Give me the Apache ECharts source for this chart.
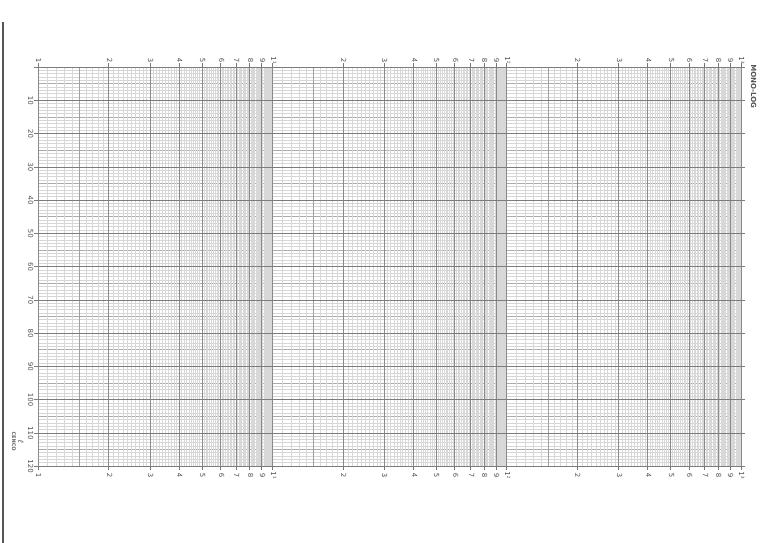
<!DOCTYPE html>
<html><head><meta charset="utf-8">
<script src="https://cdn.jsdelivr.net/npm/echarts@6/dist/echarts.min.js"></script>
<style>html,body{margin:0;padding:0;background:#fff}#c{width:768px;height:543px}</style>
</head><body><div id="c"></div>
<script>
// ---- paper data ----
const xMin = 1, xMax = 1000, yMin = 0, yMax = 120;
const decades = [1, 10, 100];
const decadeLabels = ['1\u00B9', '1\u00B2', '1\u00B3'];   // labels at 10, 100, 1000
const mantissaLabels = ['1', '2', '3', '4', '5', '6', '7', '8', '9'];
const majorMantissas = [1, 2, 3, 4, 5, 6, 7, 8, 9];
const mediumMantissas = [1.5];
const minorMantissas = [1.1, 1.2, 1.3, 1.4, 1.6, 1.7, 1.8, 1.9,
  2.1, 2.2, 2.3, 2.4, 2.5, 2.6, 2.7, 2.8, 2.9,
  3.1, 3.2, 3.3, 3.4, 3.5, 3.6, 3.7, 3.8, 3.9,
  4.1, 4.2, 4.3, 4.4, 4.5, 4.6, 4.7, 4.8, 4.9,
  5.1, 5.2, 5.3, 5.4, 5.5, 5.6, 5.7, 5.8, 5.9,
  6.1, 6.2, 6.3, 6.4, 6.5, 6.6, 6.7, 6.8, 6.9,
  7.1, 7.2, 7.3, 7.4, 7.5, 7.6, 7.7, 7.8, 7.9,
  8.1, 8.2, 8.3, 8.4, 8.5, 8.6, 8.7, 8.8, 8.9,
  9.1, 9.2, 9.3, 9.4, 9.5, 9.6, 9.7, 9.8, 9.9];
const yTickValues = [10, 20, 30, 40, 50, 60, 70, 80, 90, 100, 110, 120];
const yTickLabels = ['10', '20', '30', '40', '50', '60', '70', '80', '90', '100', '110', '120'];
const yMajorLines = [0, 10, 20, 30, 40, 50, 60, 70, 80, 90, 100, 110, 120];
const paperTitle = 'MONO-LOG';
const brandName = 'CENCO';

// ---- build line / label tables ----
const kindColors = ['#d8d8d8', '#a0a0a0', '#8a8a8a'];   // minor, medium, major
const vLines = [];
decades.forEach(d => minorMantissas.forEach(m => vLines.push([+(m * d).toPrecision(6), 0, 0])));
decades.forEach(d => mediumMantissas.forEach(m => vLines.push([+(m * d).toPrecision(6), 0, 1])));
decades.forEach(d => majorMantissas.forEach(m => vLines.push([m * d, 0, 2])));
vLines.push([xMax, 0, 2]);

const xLabelVals = [], xLabelTexts = [];
decades.forEach((d, di) => {
  majorMantissas.forEach((m, mi) => {
    if (mi === 0 && di > 0) return;
    xLabelVals.push([m * d, 0]); xLabelTexts.push(mantissaLabels[mi]);
  });
  xLabelVals.push([d * 10, 0]); xLabelTexts.push(decadeLabels[di]);
});

const hMajor = yMajorLines.map(v => [xMin, v]);
const yLabelData = yTickValues.map(v => [xMin, v]);

// same sub-pixel snapping ECharts uses for its split lines (width 1)
function snap(pos) {
  const d = Math.round(pos * 2);
  return (d + 1) % 2 === 0 ? d / 2 : (d + 1) / 2;
}

function renderV(params, api) {
  const x = api.value(0), k = api.value(2);
  const p1 = api.coord([x, yMin]), p2 = api.coord([x, yMax]);
  const px = snap(p1[0]);
  const children = [{ type: 'line', shape: { x1: px, y1: p1[1], x2: px, y2: p2[1] },
    style: { stroke: kindColors[k], lineWidth: 1 } }];
  if (k === 2) {
    children.push({ type: 'line', shape: { x1: px, y1: p1[1] - 4, x2: px, y2: p1[1] }, style: { stroke: '#777', lineWidth: 1 } });
    children.push({ type: 'line', shape: { x1: px, y1: p2[1], x2: px, y2: p2[1] + 4 }, style: { stroke: '#777', lineWidth: 1 } });
  }
  return { type: 'group', children };
}
function renderH(params, api) {
  const y = api.value(1);
  const p1 = api.coord([xMin, y]), p2 = api.coord([xMax, y]);
  const py = snap(p1[1]);
  return { type: 'line', shape: { x1: p1[0] - 4, y1: py, x2: p2[0] + 4, y2: py }, style: { stroke: '#7c7c7c', lineWidth: 1 } };
}
function renderXLabels(params, api) {
  const x = api.value(0);
  const pt = api.coord([x, yMin]), pb = api.coord([x, yMax]);
  const t = xLabelTexts[params.dataIndex];
  const st = { text: t, fill: '#555', font: '7px "DejaVu Sans"', align: 'center', verticalAlign: 'middle' };
  return { type: 'group', children: [
    { type: 'text', x: pt[0], y: pt[1] - 7, rotation: -Math.PI / 2, style: Object.assign({}, st) },
    { type: 'text', x: pb[0], y: pb[1] + 9, rotation: -Math.PI / 2, style: Object.assign({}, st) }
  ] };
}
function renderYLabels(params, api) {
  const p = api.coord([xMin, api.value(1)]);
  return { type: 'text', x: p[0] - 8, y: p[1], rotation: -Math.PI / 2,
    style: { text: yTickLabels[params.dataIndex], fill: '#555', font: '7px "DejaVu Sans"', align: 'center', verticalAlign: 'middle' } };
}

const chart = echarts.init(document.getElementById('c'));
chart.setOption({
  backgroundColor: '#ffffff',
  animation: false,
  grid: { left: 38, right: 27, top: 67, bottom: 77 },
  xAxis: { type: 'log', logBase: 10, min: xMin, max: xMax,
    axisLine: { show: false }, axisTick: { show: false }, axisLabel: { show: false }, splitLine: { show: false } },
  yAxis: { type: 'value', min: yMin, max: yMax, interval: 5, inverse: true,
    axisLine: { show: false }, axisTick: { show: false }, axisLabel: { show: false },
    splitLine: { show: true, lineStyle: { color: '#ababab', width: 1 } },
    minorTick: { show: false, splitNumber: 5 },
    minorSplitLine: { show: true, lineStyle: { color: '#d6d6d6', width: 1 } } },
  graphic: [
    { type: 'rect', shape: { x: 2, y: 22, width: 2, height: 521 }, style: { fill: '#555' } },
    { type: 'text', x: 753, y: 86, rotation: -Math.PI / 2,
      style: { text: paperTitle, fill: '#555', font: 'bold 7px "DejaVu Sans"', align: 'center', verticalAlign: 'middle' } },
    { type: 'text', x: 13, y: 441, rotation: -Math.PI / 2,
      style: { text: brandName, fill: '#666', font: 'bold 5px "DejaVu Sans"', align: 'center', verticalAlign: 'middle' } },
    { type: 'text', x: 20, y: 441, rotation: -Math.PI / 2,
      style: { text: 'ℓ', fill: '#555', font: 'italic 8px "DejaVu Serif"', align: 'center', verticalAlign: 'middle' } }
  ],
  series: [
    { type: 'custom', renderItem: renderV, data: vLines, silent: true, z: 2 },
    { type: 'custom', renderItem: renderH, data: hMajor, silent: true, z: 3 },
    { type: 'custom', renderItem: renderXLabels, data: xLabelVals, silent: true, clip: false, z: 4 },
    { type: 'custom', renderItem: renderYLabels, data: yLabelData, silent: true, clip: false, z: 4 }
  ]
});
</script></body></html>
